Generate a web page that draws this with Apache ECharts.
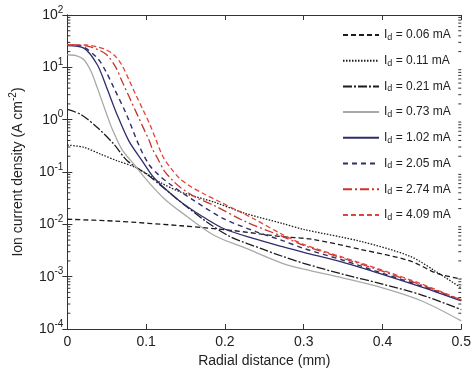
<!DOCTYPE html>
<html>
<head>
<meta charset="utf-8">
<script src="https://cdn.jsdelivr.net/npm/echarts@6/dist/echarts.min.js"></script>
<style>html,body{margin:0;padding:0;background:#fff}#c{width:474px;height:373px}</style>
</head>
<body>
<div id="c"></div>
<script>
// discharge currents (mA)
const currents = ['0.06','0.11','0.21','0.73','1.02','2.05','2.74','4.09'];
// x tick labels
const xTicks = [0, 0.1, 0.2, 0.3, 0.4, 0.5];
// minor tick values of the log axis
const minorVals = [2,3,4,5,6,7,8,9].flatMap(m => [1e-4,1e-3,1e-2,1e-1,1,10].map(d => m*d));

// radial distance (mm) and ion current density (A cm^-2) per current
const r_006 = [0,0.061,0.144,0.207,0.273,0.31,0.373,0.435,0.469,0.5];
const j_006 = [0.0125,0.0115,0.0094,0.0077,0.0058,0.0052,0.0033,0.0020,0.00116,0.0009];

const r_011 = [0,0.021,0.042,0.063,0.088,0.103,0.117,0.144,0.186,0.227,0.273,0.3,0.373,0.435,0.469,0.5];
const j_011 = [0.327,0.296,0.22,0.164,0.12,0.088,0.064,0.0414,0.0267,0.016,0.0104,0.0080,0.0047,0.00245,0.00122,0.00061];

const r_021 = [0,0.017,0.038,0.059,0.076,0.103,0.144,0.177,0.207,0.248,0.273,0.3,0.35,0.4,0.45,0.5];
const j_021 = [1.57,1.26,0.708,0.341,0.164,0.0855,0.0267,0.0111,0.0058,0.00335,0.00245,0.0018,0.00111,0.00072,0.000446,0.000234];

const r_073 = [0,0.011,0.021,0.03,0.038,0.05,0.057,0.069,0.084,0.103,0.123,0.144,0.186,0.227,0.273,0.3,0.35,0.4,0.45,0.5];
const j_073 = [17.4,16.7,14.0,8.4,4.06,1.26,0.658,0.274,0.143,0.064,0.0309,0.0173,0.0062,0.00347,0.0018,0.00139,0.00094,0.00061,0.000343,0.000143];

const r_102 = [0,0.021,0.038,0.05,0.063,0.078,0.095,0.108,0.12,0.142,0.169,0.198,0.236,0.273,0.3,0.35,0.4,0.45,0.5];
const j_102 = [26.1,23.3,11.2,4.06,1.26,0.394,0.163,0.0843,0.0544,0.0283,0.0149,0.00832,0.00538,0.00374,0.00292,0.00188,0.00111,0.00063,0.000343];

const r_205 = [0,0.017,0.038,0.049,0.059,0.075,0.092,0.104,0.116,0.13,0.157,0.198,0.24,0.273,0.3,0.35,0.4,0.45,0.5];
const j_205 = [27,25.8,15.1,8.28,4.06,1.26,0.296,0.136,0.088,0.059,0.0309,0.0129,0.0072,0.0049,0.00347,0.00206,0.00116,0.00066,0.00036];

const r_274 = [0,0.024,0.039,0.05,0.061,0.071,0.078,0.088,0.096,0.104,0.108,0.115,0.123,0.133,0.144,0.164,0.186,0.227,0.273,0.3,0.35,0.4,0.45,0.5];
const j_274 = [27,25.8,21.7,17.4,10.3,4.8,2.83,1.32,0.72,0.394,0.274,0.177,0.105,0.0708,0.0499,0.0323,0.023,0.0111,0.00587,0.00395,0.00224,0.00127,0.00069,0.00036];

const r_409 = [0,0.024,0.037,0.049,0.059,0.069,0.079,0.087,0.096,0.105,0.113,0.117,0.123,0.132,0.142,0.155,0.173,0.194,0.236,0.273,0.3,0.35,0.4,0.45,0.5];
const j_409 = [27,26.7,24.7,21.7,17.4,11.2,5.42,2.95,1.55,0.79,0.394,0.274,0.177,0.115,0.0768,0.0545,0.0384,0.0267,0.0129,0.0064,0.00414,0.00234,0.00133,0.00072,0.00036];

const radii = [r_006, r_011, r_021, r_073, r_102, r_205, r_274, r_409];
const dens  = [j_006, j_011, j_021, j_073, j_102, j_205, j_274, j_409];

const styles = [
  {color:'#1c1c1c', type:[5,3], width:1.3},
  {color:'#1c1c1c', type:[1.5,1.5], width:1.3},
  {color:'#1c1c1c', type:[9,2,2,2], width:1.3},
  {color:'#a9a9a9', type:'solid', width:1.3},
  {color:'#2e2e6c', type:'solid', width:1.3},
  {color:'#2e2e6c', type:[5,4], width:1.4},
  {color:'#c9342e', type:[9,3,2,3], width:1.3},
  {color:'#e2443d', type:[5,3], width:1.3}
];

const FONT = '"Liberation Sans", Arial, sans-serif';
const chart = echarts.init(document.getElementById('c'), null, {renderer:'canvas'});

const lineSeries = currents.map((c, k) => ({
  name: c,
  type: 'line',
  data: radii[k].map((x, i) => [x, dens[k][i]]),
  symbol: 'none',
  smooth: 0.3,
  lineStyle: styles[k],
  itemStyle: {color: styles[k].color},
  z: 3 + k
}));

const minorSeries = {
  type: 'custom',
  name: 'minor',
  silent: true,
  data: minorVals.map(v => [0, v]),
  encode: {x: 0, y: 1},
  clip: false,
  renderItem: function (params, api) {
    const v = api.value(1);
    const pl = api.coord([0, v]);
    const pr = api.coord([0.5, v]);
    const st = {stroke: '#333', lineWidth: 1};
    return {type: 'group', children: [
      {type: 'line', shape: {x1: pl[0], y1: pl[1], x2: pl[0] + 3, y2: pl[1]}, style: st},
      {type: 'line', shape: {x1: pr[0], y1: pr[1], x2: pr[0] - 3, y2: pr[1]}, style: st}
    ]};
  },
  z: 10
};

const axisLineStyle = {color: '#333', width: 1};

chart.setOption({
  animation: false,
  backgroundColor: '#fff',
  textStyle: {fontFamily: FONT},
  grid: {left: 61, right: 12, top: 15, bottom: 42},
  legend: {
    orient: 'vertical',
    left: 337,
    top: 23,
    itemWidth: 36,
    itemHeight: 14,
    itemGap: 11.7,
    data: currents,
    itemStyle: {opacity: 0, borderWidth: 0},
    formatter: name => 'I{sub|d} = ' + name + ' mA',
    textStyle: {
      fontSize: 12, color: '#222', fontFamily: FONT, lineHeight: 14,
      rich: {sub: {fontSize: 9, lineHeight: 9, verticalAlign: 'bottom', color: '#222', fontFamily: FONT}}
    }
  },
  xAxis: [{
    type: 'value', min: 0, max: 0.5, interval: 0.1,
    name: 'Radial distance (mm)', nameLocation: 'middle', nameGap: 25,
    nameTextStyle: {fontSize: 14, color: '#222', fontFamily: FONT},
    axisLine: {show: true, lineStyle: axisLineStyle},
    axisTick: {show: true, inside: true, length: 5, lineStyle: axisLineStyle},
    axisLabel: {fontSize: 14, color: '#222', margin: 6, fontFamily: FONT,
      formatter: v => { const t = xTicks.find(q => Math.abs(q - v) < 1e-9); return t === 0 ? '0' : (t !== undefined ? t.toFixed(1) : ''); }},
    splitLine: {show: false}
  }, {
    type: 'value', min: 0, max: 0.5, interval: 0.1, position: 'top',
    axisLine: {show: true, lineStyle: axisLineStyle},
    axisTick: {show: true, inside: true, length: 5, lineStyle: axisLineStyle},
    axisLabel: {show: false}, splitLine: {show: false}
  }],
  yAxis: [{
    type: 'log', logBase: 10, min: 1e-4, max: 100,
    name: 'Ion current density (A cm{sup|-2})', nameLocation: 'middle', nameGap: 34,
    nameTextStyle: {fontSize: 14, color: '#222', fontFamily: FONT, lineHeight: 20,
      rich: {sup: {fontSize: 10, lineHeight: 10, verticalAlign: 'top', color: '#222', fontFamily: FONT}}},
    axisLine: {show: true, lineStyle: axisLineStyle},
    axisTick: {show: true, inside: true, length: 5, lineStyle: axisLineStyle},
    axisLabel: {margin: 4, color: '#222', fontSize: 14, fontFamily: FONT, lineHeight: 20,
      formatter: v => '10{sup|' + Math.round(Math.log10(v)) + '}',
      rich: {sup: {fontSize: 10, lineHeight: 10, verticalAlign: 'top', color: '#222', fontFamily: FONT}}},
    splitLine: {show: false}
  }, {
    type: 'log', logBase: 10, min: 1e-4, max: 100, position: 'right',
    axisLine: {show: true, lineStyle: axisLineStyle},
    axisTick: {show: true, inside: true, length: 5, lineStyle: axisLineStyle},
    axisLabel: {show: false}, splitLine: {show: false}
  }],
  series: lineSeries.concat([minorSeries])
});
</script>
</body>
</html>
